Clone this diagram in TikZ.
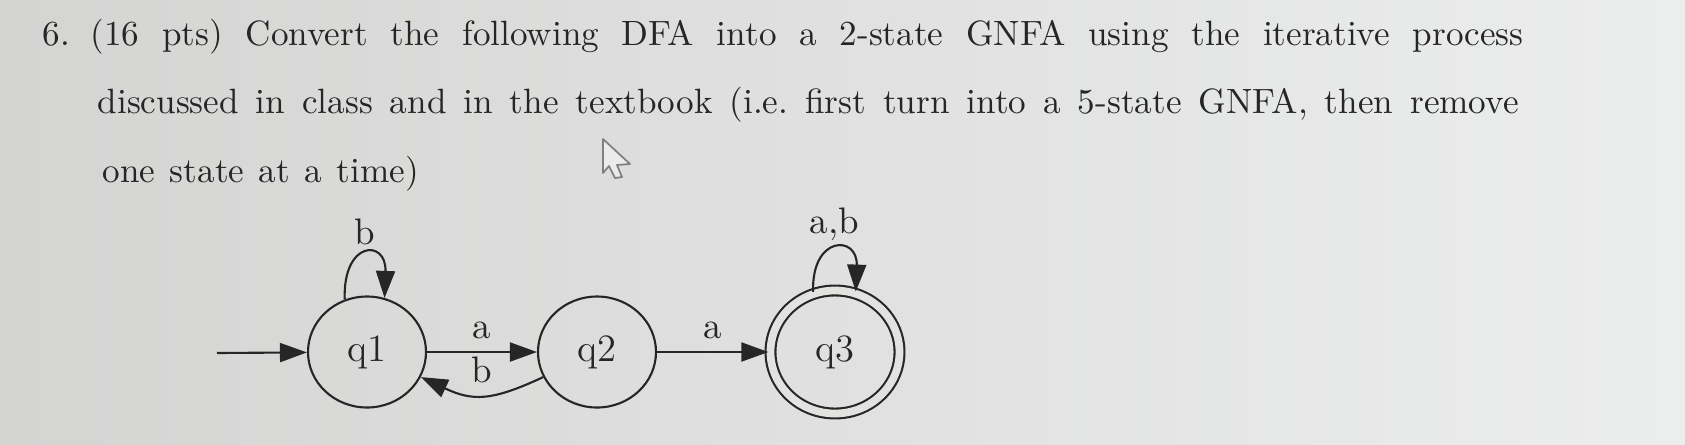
\documentclass[tikz,border=0pt]{standalone}
\usepackage{tikz}
\usetikzlibrary{automata, positioning, arrows.meta, shapes.geometric}
\definecolor{paper}{RGB}{226,226,225}
\definecolor{paperleft}{RGB}{212,212,211}
\definecolor{paperright}{RGB}{236,237,237}
\definecolor{ink}{RGB}{38,38,38}

\begin{document}
\begin{tikzpicture}

          % Setup the styles for the text lines and the states
          \tikzset{line style/.style={anchor=base west,
                                      inner sep=0pt,
                                      text=ink,
                                      font=\fontsize{10}{12}\selectfont},
                   node style/.style={state, ellipse,
                                      draw=ink,
                                      line width=0.6pt,
                                      minimum width=1.18cm,
                                      minimum height=1.11cm,
                                      inner sep=0pt,
                                      text=ink,
                                      font=\fontsize{11}{11}\selectfont}}
          % The page of the photo
          \shade[left color=paperleft, right color=paperright] (0,0) rectangle (16.85,-4.44);
          \useasboundingbox (0,0) rectangle (16.85,-4.44);
          % The question
          \node[line style] at (0.42, -0.45) (num)   {6.};
          \node[line style] at (0.90, -0.45) (line1) {\makebox[14.33cm][s]{(16 pts) Convert the following DFA into a 2-state GNFA using the iterative process}};
          \node[line style] at (0.97, -1.13) (line2) {\makebox[14.21cm][s]{discussed in class and in the textbook (i.e.\ first turn into a 5-state GNFA, then remove}};
          \node[line style] at (1.02, -1.82) (line3) {\makebox[3.16cm][s]{one state at a time)}};
          % The mouse pointer
          \draw[gray, line width=0.5pt, line join=round, fill=paper!70!white]
             (6.03,-1.39) -- (6.03,-1.73) -- (6.09,-1.66) -- (6.15,-1.78)
             -- (6.22,-1.77) -- (6.17,-1.65) -- (6.30,-1.64) -- cycle;
          % Draw the states
          \node[node style] at (3.67, -3.52) (q1) {q1};
          \node[node style] at (5.97, -3.52) (q2) {q2};
          \node[node style, accepting, double=paper, double distance=2.2pt,
                minimum width=1.29cm, minimum height=1.23cm] at (8.35, -3.52) (q3) {q3};
          \coordinate (start) at (2.17, -3.53);
          % Connect the states with arrows
          \path[->,
                line width=0.6pt,
                >={Triangle[length=2.7mm, width=1.9mm]},
                color=ink,
                every node/.style={text=ink, font=\fontsize{10.5}{11}\selectfont}]
             (start) edge (q1)
             (q1) edge node[above] {a} (q2)
             (q2) edge[out=205, in=335, looseness=1.2] node[above] {b} (q1)
             (q2) edge node[above] {a} (q3)
             (q1.113) edge[out=92, in=88, looseness=3.8] node[above, inner sep=2.5pt] {b} (q1.72)
             (q3.110) edge[out=92, in=88, looseness=3.4] node[above, inner sep=2pt] {a,b} (q3.71);
      \end{tikzpicture}
\end{document}
